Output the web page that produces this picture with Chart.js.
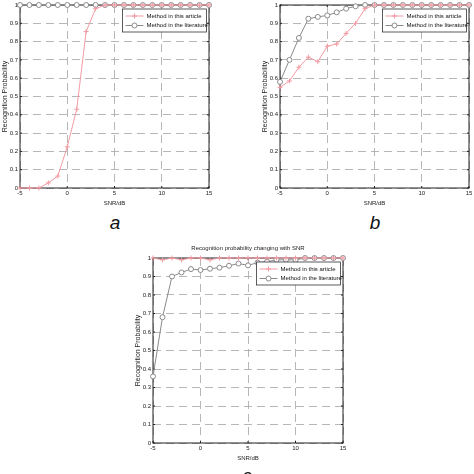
<!DOCTYPE html>
<html><head><meta charset="utf-8">
<script src="https://cdn.jsdelivr.net/npm/chart.js@4.4.1/dist/chart.umd.min.js"></script>
<style>
html,body{margin:0;padding:0;background:#fff;width:474px;height:474px;overflow:hidden;position:relative}
canvas{position:absolute}
.lab{position:absolute;width:30px;text-align:center;font:italic 19px "Liberation Sans",Arial,sans-serif;line-height:19px;color:#111}
</style></head>
<body>
<canvas id="ca" width="237" height="210" style="left:0;top:0;width:237px;height:210px"></canvas>
<canvas id="cb" width="237" height="210" style="left:237px;top:0;width:237px;height:210px"></canvas>
<canvas id="cc" width="240" height="237" style="left:120px;top:237px;width:240px;height:237px"></canvas>
<div class="lab" style="left:100px;top:213px">a</div>
<div class="lab" style="left:360px;top:213px">b</div>
<div class="lab" style="left:232px;top:466px">c</div>
<script>
// ---- data ----
const snr = [-5,-4,-3,-2,-1,0,1,2,3,4,5,6,7,8,9,10,11,12,13,14,15];
const aArticle    = [0,0,0,0.028,0.065,0.225,0.43,0.855,0.98,1,1,1,1,1,1,1,1,1,1,1,1];
const aLiterature = [1,1,1,1,1,1,1,1,1,1,1,1,1,1,1,1,1,1,1,1,1];
const bArticle    = [0.55,0.585,0.66,0.715,0.69,0.775,0.787,0.845,0.9,0.98,1,1,1,1,1,1,1,1,1,1,1];
const bLiterature = [0.58,0.70,0.82,0.925,0.935,0.943,0.96,0.98,0.993,1,1,1,1,1,1,1,1,1,1,1,1];
const cArticle    = [1,0.99,1,0.99,1,1,0.99,1,1,1,1,1,1,1,1,1,1,1,1,1,1];
const cLiterature = [0.36,0.68,0.90,0.922,0.94,0.935,0.942,0.948,0.958,0.97,0.96,0.975,0.98,0.99,0.99,0.99,1,1,1,1,1];
const seriesNames = ['Method in this article','Method in the literature'];
const yTickLabels = ['0','0.1','0.2','0.3','0.4','0.5','0.6','0.7','0.8','0.9','1'];
const xTitle = 'SNR/dB';
const yTitle = 'Recognition Probability';
const cTitle = 'Recognition probability changing with SNR';

const FONT = '"Liberation Sans", Arial, sans-serif';
Chart.defaults.font.family = FONT;
Chart.defaults.color = '#222';

const frame = {
  id: 'frame',
  beforeDatasetsDraw(chart) {
    const {ctx, chartArea: ca, scales: {x, y}} = chart;
    ctx.save();
    ctx.strokeStyle = '#222'; ctx.lineWidth = 1;
    ctx.strokeRect(ca.left, ca.top, ca.right - ca.left, ca.bottom - ca.top);
    ctx.beginPath();
    x.ticks.forEach(t => { const p = x.getPixelForValue(t.value);
      ctx.moveTo(p, ca.bottom); ctx.lineTo(p, ca.bottom - 2);
      ctx.moveTo(p, ca.top); ctx.lineTo(p, ca.top + 2); });
    y.ticks.forEach(t => { const p = y.getPixelForValue(t.value);
      ctx.moveTo(ca.left, p); ctx.lineTo(ca.left + 2, p);
      ctx.moveTo(ca.right, p); ctx.lineTo(ca.right - 2, p); });
    ctx.stroke();
    ctx.restore();
  }
};
const boxLegend = {
  id: 'boxLegend',
  afterDraw(chart) {
    const {ctx, chartArea: ca} = chart;
    const w = 84, h = 23;
    const x0 = ca.right - 2.5 - w, y0 = ca.top + 4;
    ctx.save();
    ctx.fillStyle = '#fff'; ctx.fillRect(x0, y0, w, h);
    ctx.strokeStyle = '#333'; ctx.lineWidth = 0.8; ctx.strokeRect(x0, y0, w, h);
    chart.data.datasets.forEach((ds, i) => {
      const yy = y0 + 7 + i * 9.5;
      ctx.strokeStyle = ds.borderColor; ctx.lineWidth = 1;
      ctx.beginPath(); ctx.moveTo(x0 + 3, yy); ctx.lineTo(x0 + 21, yy); ctx.stroke();
      ctx.fillStyle = ds.pointBackgroundColor;
      Chart.helpers.drawPoint(ctx, {pointStyle: ds.pointStyle, radius: ds.pointRadius, rotation: 0, borderWidth: 1}, x0 + 12, yy);
      ctx.fillStyle = '#111'; ctx.font = '6px ' + FONT; ctx.textBaseline = 'middle'; ctx.textAlign = 'left';
      ctx.fillText(ds.label, x0 + 24, yy);
    });
    ctx.restore();
  }
};

function pts(vals) { return snr.map((s, i) => ({x: s, y: vals[i]})); }

function make(id, art, lit, pad, title) {
  return new Chart(document.getElementById(id), {
    type: 'line',
    data: { datasets: [
      { label: seriesNames[0], data: pts(art), borderColor: '#f29aa3', backgroundColor: '#f29aa3',
        pointBackgroundColor: '#f29aa3', pointBorderColor: '#f29aa3', pointStyle: 'cross', pointRadius: 2.5,
        borderWidth: 1, pointBorderWidth: 1, tension: 0, clip: false },
      { label: seriesNames[1], data: pts(lit), borderColor: '#8a8a8a', backgroundColor: '#fff',
        pointBackgroundColor: '#fff', pointBorderColor: '#8a8a8a', pointStyle: 'circle', pointRadius: 2.5,
        borderWidth: 1, pointBorderWidth: 1, tension: 0, clip: false }
    ]},
    options: {
      responsive: false, animation: false, devicePixelRatio: 1,
      layout: { padding: pad },
      plugins: {
        legend: { display: false }, tooltip: { enabled: false },
        title: title ? { display: true, text: title, fullSize: false, color: '#222',
          font: { size: 6, weight: 'normal' }, padding: { top: 7.4, bottom: 6.4 } } : { display: false }
      },
      scales: {
        x: { type: 'linear', min: -5, max: 15,
          ticks: { stepSize: 5, padding: 2, font: { size: 6 }, color: '#222', maxRotation: 0 },
          grid: { color: '#a5a5a5', lineWidth: 0.8, drawTicks: false },
          border: { display: false, dash: [8, 5] },
          title: { display: true, text: xTitle, font: { size: 6 }, color: '#222', padding: { top: 0, bottom: 3.4 } },
          afterFit: s => { s.height = 22; s.paddingLeft = 0; s.paddingRight = 0; }
        },
        y: { type: 'linear', min: 0, max: 1,
          ticks: { stepSize: 0.1, padding: 2, font: { size: 6 }, color: '#222', callback: (v, i) => yTickLabels[i] },
          grid: { color: '#a5a5a5', lineWidth: 0.8, drawTicks: false },
          border: { display: false, dash: [8, 5] },
          title: { display: true, text: yTitle, font: { size: 7 }, color: '#222', padding: { top: 1, bottom: 0 } },
          afterFit: s => { s.width = 20; s.paddingTop = 0; s.paddingBottom = 0; }
        }
      }
    },
    plugins: [frame, boxLegend]
  });
}

make('ca', aArticle, aLiterature, { left: 0, right: 28, top: 2, bottom: 0 }, null);
make('cb', bArticle, bLiterature, { left: 23, right: 5, top: 2, bottom: 0 }, null);
make('cc', cArticle, cLiterature, { left: 13, right: 17, top: 0, bottom: 9 }, cTitle);
</script>
</body></html>
